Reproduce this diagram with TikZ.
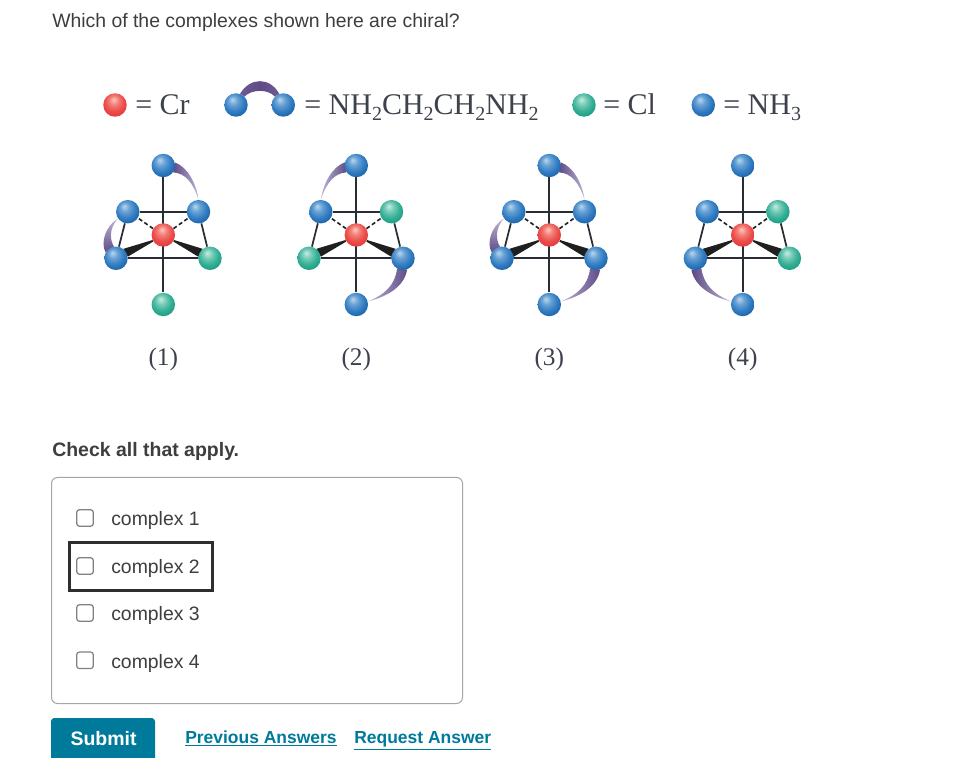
\documentclass[tikz,border=0pt]{standalone}
\usepackage{fontspec}
\setmainfont{Liberation Serif}
\newfontfamily\uifont{Liberation Sans}
\usetikzlibrary{backgrounds}
\definecolor{bhi}{RGB}{185,215,238}\definecolor{bmid}{RGB}{50,125,195}\definecolor{bedge}{RGB}{15,85,155}
\definecolor{rhi}{RGB}{252,200,190}\definecolor{rmid}{RGB}{236,75,72}\definecolor{redge}{RGB}{218,48,55}
\definecolor{ghi}{RGB}{200,236,225}\definecolor{gmid}{RGB}{50,175,148}\definecolor{gedge}{RGB}{18,145,120}
\definecolor{bandd}{RGB}{95,75,135}\definecolor{bandl}{RGB}{190,180,210}
\definecolor{bondc}{RGB}{40,45,52}\definecolor{chem}{RGB}{62,66,76}\definecolor{uitext}{RGB}{62,62,62}
\definecolor{teal}{RGB}{0,122,155}
\pgfdeclareradialshading{blueball}{\pgfpoint{-8bp}{12bp}}{color(0bp)=(bhi);color(10bp)=(bmid!60!bhi);color(21bp)=(bmid);color(36bp)=(bedge);color(50bp)=(bedge)}
\pgfdeclareradialshading{redball}{\pgfpoint{-3bp}{12bp}}{color(0bp)=(rhi);color(10bp)=(rmid!60!rhi);color(21bp)=(rmid);color(36bp)=(redge);color(50bp)=(redge)}
\pgfdeclareradialshading{greenball}{\pgfpoint{-6bp}{12bp}}{color(0bp)=(ghi);color(10bp)=(gmid!55!ghi);color(21bp)=(gmid);color(36bp)=(gedge);color(50bp)=(gedge)}
\newcommand{\sbs}{\raisebox{-4.3pt}{\fontsize{15pt}{16pt}\selectfont 2}}
\newcommand{\sbt}{\raisebox{-4.3pt}{\fontsize{15pt}{16pt}\selectfont 3}}
\tikzset{
  ball/.style={circle,inner sep=0pt,minimum size=17.6pt,shade,shading=#1},
  bond/.style={draw=bondc,line width=1.3pt},
  dashbond/.style={draw=black!85,line width=1.25pt,dash pattern=on 3pt off 2pt},
  wedge/.style={fill=black!88},
  chemtext/.style={inner sep=0pt,anchor=base west,text=chem,font=\fontsize{22.5pt}{24pt}\selectfont},
  numlabel/.style={inner sep=0pt,anchor=base,text=chem,font=\fontsize{19pt}{22pt}\selectfont},
  uilabel/.style={inner sep=0pt,anchor=base west,text=uitext,font=\uifont\fontsize{14.55pt}{18pt}\selectfont},
  uibold/.style={inner sep=0pt,anchor=base west,text=uitext,font=\uifont\bfseries\fontsize{14.6pt}{18pt}\selectfont},
  linklabel/.style={inner sep=0pt,anchor=base west,text=teal,font=\uifont\bfseries\fontsize{13.1pt}{16pt}\selectfont},
  checkbox/.style={draw=black!50,line width=.9pt,fill=white,rounded corners=2pt,inner sep=0pt,minimum size=12.4pt},
  shadeL/.style={left color=bandd,right color=bandl},
  shadeR/.style={left color=bandl,right color=bandd},
  shadeB/.style={top color=bandl,bottom color=bandd},
}
% bands: local coordinates in px, centre of the complex at the origin
\newcommand{\bandTR}{\shade[shadeL] (\p t.15) .. controls (24,68) and (33,52) .. (\p r.90) .. controls (30,52) and (22,62) .. (\p t.-35) -- cycle;}
\newcommand{\bandTL}{\shade[shadeR] (\p t.165) .. controls (-24,68) and (-33,52) .. (\p l.90) .. controls (-30,52) and (-22,62) .. (\p t.215) -- cycle;}
\newcommand{\bandLL}{\shade[shadeB] (\p l.215) .. controls (-58,9) and (-63,-8) .. (\p fl.150) -- (\p fl.100) .. controls (-53,-6) and (-55,6) .. (\p l.215) -- cycle;}
\newcommand{\bandBR}{\shade[shadeR] (\p fr.-70) .. controls (48,-52) and (30,-62) .. (\p b.15) .. controls (28,-60) and (39,-50) .. (\p fr.-120) -- cycle;}
\newcommand{\bandBL}{\shade[shadeL] (\p fl.-110) .. controls (-48,-52) and (-30,-62) .. (\p b.165) .. controls (-28,-60) and (-39,-50) .. (\p fl.-60) -- cycle;}
\newcommand{\molecule}[9]{%
  \def\p{#1}%
  \begin{scope}[shift={(#2,522)}]
    \node[ball=#3] (\p t) at (0,69.5) {};
    \node[ball=#4] (\p l) at (-35.5,23.3) {};
    \node[ball=#5] (\p r) at (35.2,23.3) {};
    \node[ball=#6] (\p fl) at (-47.3,-23.3) {};
    \node[ball=#7] (\p fr) at (46.7,-23.3) {};
    \node[ball=#8] (\p b) at (0,-69.5) {};
    \node[ball=redball] (\p c) at (0,0) {};
    \node[numlabel] (\p lab) at (0,-131) {#9};
  \end{scope}
  \moleculebonds{#2}%
}
\newcommand{\moleculebonds}[1]{%
  \begin{scope}[on background layer,shift={(#1,522)}]
    \thebands
    \draw[bond] (\p t) -- (\p b);
    \draw[bond] (\p l) -- (\p r);
    \draw[bond] (\p fl) -- (\p fr);
    \draw[bond] (\p l) -- (\p fl);
    \draw[bond] (\p r) -- (\p fr);
    \draw[dashbond] (\p c.148) -- (\p l.-32);
    \draw[dashbond] (\p c.32) -- (\p r.212);
    \fill[wedge] (\p c.205) -- (\p fl.52) -- (\p fl.8) -- (\p c.213) -- cycle;
    \fill[wedge] (\p c.-25) -- (\p fr.128) -- (\p fr.172) -- (\p c.-33) -- cycle;
  \end{scope}
}
\begin{document}
\begin{tikzpicture}[x=0.75pt,y=0.75pt]
\useasboundingbox (0,0) rectangle (978,757);
\begin{scope}[on background layer]
  \fill[white] (0,0) rectangle (978,757);
\end{scope}
% question
\node[uilabel] (question) at (52,729) {Which of the complexes shown here are chiral?};
% legend
\node[ball=redball] (legcr) at (115,652) {};
\node[chemtext] (legcrt) at (135,642) {= Cr};
\node[ball=blueball] (lega) at (236,652) {};
\node[ball=blueball] (legb) at (283.3,652) {};
\begin{scope}[on background layer]
  \shade[left color=bandd!85!bandl,right color=bandd!85!bandl,middle color=bandd] (lega.70) .. controls (250,680) and (270,680) .. (legb.110) -- (legb.135) .. controls (268,668) and (252,668) .. (lega.45) -- cycle;
\end{scope}
\node[chemtext] (legent) at (304,642) {= NH\sbs CH\sbs CH\sbs NH\sbs};
\node[ball=greenball] (legcl) at (584,652) {};
\node[chemtext] (legclt) at (603,642) {= Cl};
\node[ball=blueball] (legnh) at (703.3,652) {};
\node[chemtext] (legnht) at (723,642) {= NH\sbt};
% complexes
\def\thebands{\bandTR\bandLL}
\molecule{a}{163.3}{blueball}{blueball}{blueball}{blueball}{greenball}{greenball}{(1)}
\def\thebands{\bandTL\bandBR}
\molecule{d}{356.3}{blueball}{blueball}{greenball}{greenball}{blueball}{blueball}{(2)}
\def\thebands{\bandTR\bandLL\bandBR}
\molecule{g}{549.3}{blueball}{blueball}{blueball}{blueball}{blueball}{blueball}{(3)}
\def\thebands{\bandBL}
\molecule{j}{742.7}{blueball}{blueball}{greenball}{blueball}{greenball}{blueball}{(4)}
% check list
\node[uibold] (check) at (52,300) {Check all that apply.};
\draw[black!35,line width=.75pt,rounded corners=4.5pt] (51.5,53.5) rectangle (462.5,279.5);
\node[checkbox] (box1) at (85,239) {};
\node[uilabel] (opt1) at (111,231) {complex 1};
\node[checkbox] (box2) at (85,191) {};
\node[uilabel] (opt2) at (111,183) {complex 2};
\node[checkbox] (box3) at (85,144) {};
\node[uilabel] (opt3) at (111,136) {complex 3};
\node[checkbox] (box4) at (85,96.7) {};
\node[uilabel] (opt4) at (111,89) {complex 4};
\draw[black!82,line width=2.25pt] (69.2,166.8) rectangle (212,214.8);
% buttons
\fill[teal,rounded corners=2.5pt] (51,-6) rectangle (155,39);
\node[inner sep=0pt,anchor=base,text=white,font=\uifont\bfseries\fontsize{14.6pt}{18pt}\selectfont] (submit) at (103.5,11.5) {Submit};
\node[linklabel] (prev) at (185,13.5) {\underline{Previous Answers}};
\node[linklabel] (req) at (354,13.5) {\underline{Request Answer}};
\end{tikzpicture}
\end{document}
